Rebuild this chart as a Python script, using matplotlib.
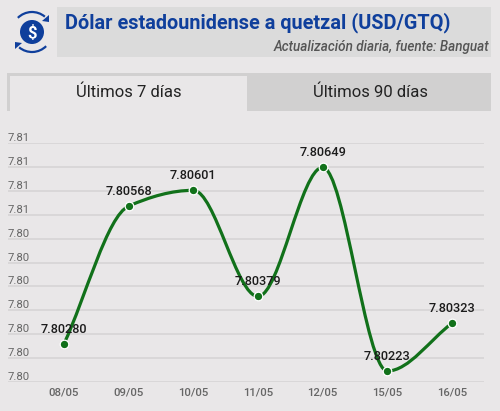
import matplotlib
matplotlib.use('Agg')
import numpy as np
import matplotlib.pyplot as plt
from matplotlib.patches import Arc, Circle, PathPatch, Polygon, Rectangle
from matplotlib.path import Path

plt.rcParams['font.family'] = ['Roboto', 'DejaVu Sans']

# Exchange rate data
dates = ['08/05', '09/05', '10/05', '11/05', '12/05', '15/05', '16/05']
rates = [7.80280, 7.80568, 7.80601, 7.80379, 7.80649, 7.80223, 7.80323]
rate_labels = ['7.80280', '7.80568', '7.80601', '7.80379', '7.80649', '7.80223', '7.80323']
y_ticks = [7.8020, 7.8025, 7.8030, 7.8035, 7.8040, 7.8045, 7.8050, 7.8055, 7.8060, 7.8065, 7.8070]
y_tick_labels = ['7.80', '7.80', '7.80', '7.80', '7.80', '7.80', '7.80', '7.81', '7.81', '7.81', '7.81']

bg_color = '#e9e7e8'
blue = '#0f3f9c'
green = '#11711a'
grid_color = '#d6d4d5'


def monotone_path(x, y):
    # Monotone cubic curve through the points, as bezier segments
    x = np.asarray(x, dtype=float)
    y = np.asarray(y, dtype=float)
    h = np.diff(x)
    s = np.diff(y) / h
    m = np.zeros(len(x))
    m[0] = s[0]
    m[-1] = s[-1]
    for i in range(1, len(x) - 1):
        if s[i - 1] * s[i] > 0:
            m[i] = 2 * s[i - 1] * s[i] / (s[i - 1] + s[i])
    verts = [(x[0], y[0])]
    codes = [Path.MOVETO]
    for i in range(len(x) - 1):
        verts += [(x[i] + h[i] / 3, y[i] + m[i] * h[i] / 3),
                  (x[i + 1] - h[i] / 3, y[i + 1] - m[i + 1] * h[i] / 3),
                  (x[i + 1], y[i + 1])]
        codes += [Path.CURVE4] * 3
    return Path(verts, codes)


fig = plt.figure(figsize=(5, 4.11), dpi=100, facecolor=bg_color)

# Header and tabs, laid out in pixels
top = fig.add_axes([0, 0, 1, 1])
top.set_xlim(0, 500)
top.set_ylim(411, 0)
top.axis('off')

top.add_patch(Rectangle((57, 7), 434, 50, facecolor='#dbdbdb', edgecolor='none'))
top.text(65, 23, 'Dólar estadounidense a quetzal (USD/GTQ)', fontsize=14.35, fontweight='bold',
         color=blue, va='center', ha='left')
top.text(489, 46.5, 'Actualización diaria, fuente: Banguat', fontsize=9.75, fontstyle='italic',
         fontweight='medium', color='#555555', va='center', ha='right')

top.add_patch(Rectangle((248, 73), 243, 38, facecolor='#d1d0d0', edgecolor='none'))
top.add_patch(Rectangle((7, 73), 241, 38, facecolor='#d1d0d0', edgecolor='none'))
top.add_patch(Rectangle((10, 76), 237, 35, facecolor=bg_color, edgecolor='none'))
top.text(128.5, 92.5, 'Últimos 7 días', fontsize=12, color='#222222', va='center', ha='center')
top.text(370.5, 92.5, 'Últimos 90 días', fontsize=12, color='#222222', va='center', ha='center')

# Currency exchange icon
top.add_patch(Circle((32, 32), 12, facecolor=blue, edgecolor='none'))
top.text(32, 32.5, '$', fontsize=12, fontweight='bold', color='white', va='center', ha='center')
top.add_patch(Arc((32, 32), 40, 40, theta1=225, theta2=310, color=blue, lw=1.6))
top.add_patch(Arc((32, 32), 40, 40, theta1=45, theta2=130, color=blue, lw=1.6))
top.add_patch(Polygon([(49, 15), (49, 22), (42, 21)], facecolor=blue, edgecolor='none'))
top.add_patch(Polygon([(15, 49), (15, 42), (22, 43)], facecolor=blue, edgecolor='none'))

# Line chart
ax = fig.add_axes([8 / 500, 1 - 382 / 411, 476 / 500, 239 / 411])
ax.patch.set_alpha(0)
x = np.arange(len(dates))
ax.set_xlim(-56 / 64.67, 6 + 32 / 64.67)
ax.set_ylim(7.8020, 7.8070)
ax.set_xticks(x, dates)
ax.set_yticks(y_ticks, y_tick_labels)
ax.grid(True, axis='y', color=grid_color, lw=1.2)
ax.set_axisbelow(True)
for side in ax.spines.values():
    side.set_visible(False)
ax.tick_params(axis='x', length=0, pad=4, labelsize=8.2, labelcolor='#666666')
ax.tick_params(axis='y', length=0, pad=0, labelsize=8.2, labelcolor='#666666')
for label in ax.get_yticklabels():
    label.set_ha('left')
    label.set_va('bottom')
for label in ax.get_xticklabels():
    label.set_fontweight('medium')

ax.add_patch(PathPatch(monotone_path(x, rates), facecolor='none', edgecolor=green, lw=2.3, capstyle='round'))
ax.plot(x, rates, linestyle='none', marker='o', markersize=6.2, markerfacecolor=green,
        markeredgecolor='white', markeredgewidth=0.9, zorder=4)
for xi, rate, text in zip(x, rates, rate_labels):
    ax.annotate(text, (xi, rate), xytext=(0, 10.5), textcoords='offset points', ha='center', va='center',
                fontsize=9.2, fontweight='medium', color='#1c1c1c', zorder=5)

fig.savefig('out.png', dpi=100, facecolor=bg_color)
